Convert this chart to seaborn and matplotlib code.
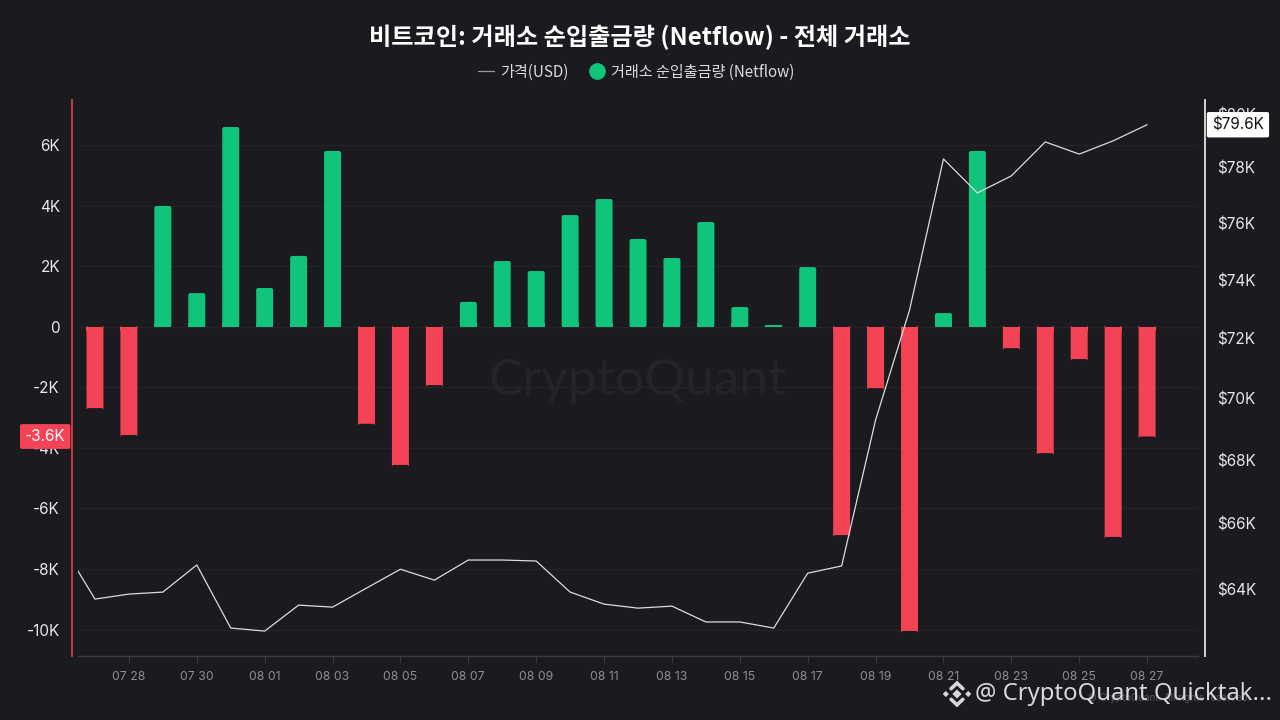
import numpy as np
import pandas as pd
import matplotlib
matplotlib.use("Agg")
import matplotlib.pyplot as plt
import seaborn as sns
from matplotlib.lines import Line2D
from matplotlib.patches import FancyBboxPatch
from matplotlib.ticker import FuncFormatter, FixedLocator, NullLocator
from matplotlib.transforms import blended_transform_factory

# === DATA
days = ["07 27", "07 28", "07 29", "07 30", "07 31", "08 01", "08 02", "08 03",
        "08 04", "08 05", "08 06", "08 07", "08 08", "08 09", "08 10", "08 11",
        "08 12", "08 13", "08 14", "08 15", "08 16", "08 17", "08 18", "08 19",
        "08 20", "08 21", "08 22", "08 23", "08 24", "08 25", "08 26", "08 27"]
netflow = [-2680, -3570, 4000, 1120, 6610, 1290, 2350, 5820,
           -3200, -4560, -1920, 830, 2180, 1850, 3700, 4230,
           2910, 2280, 3470, 660, 80, 1980, -6880, -2020,
           -10050, 460, 5820, -700, -4170, -1060, -6940, -3620]
# the first price is the day before the bars, it gets clipped by the left edge
price_prev = 65.4
price = [63.70, 63.85, 63.91, 64.73, 62.84, 62.75, 63.52, 63.46,
         64.03, 64.60, 64.27, 64.88, 64.88, 64.85, 63.91, 63.55,
         63.43, 63.49, 63.02, 63.02, 62.84, 64.48, 64.70, 69.29,
         72.96, 78.33, 77.09, 77.71, 78.96, 78.51, 79.00, 79.60]
left_ticks = [-10000, -8000, -6000, -4000, -2000, 0, 2000, 4000, 6000]
right_ticks = [64, 66, 68, 70, 72, 74, 76, 78, 80]

TITLE = "비트코인: 거래소 순입출금량 (Netflow) - 전체 거래소"
BG = "#1a1a1f"
GREEN = "#10c47c"
RED = "#f44354"
FONTS = ["Inter", "Noto Sans CJK KR", "DejaVu Sans"]

sns.set_theme(style="dark")
plt.rcParams["font.family"] = FONTS

df = pd.DataFrame({"day": days, "netflow": netflow})
df["sign"] = np.where(df["netflow"] >= 0, "in", "out")

fig = plt.figure(figsize=(12.8, 7.2), dpi=100, facecolor=BG)
ax = fig.add_axes([78 / 1280, 64 / 720, 1120 / 1280, 556 / 720], facecolor=BG)

# === BARS
sns.barplot(data=df, x="day", y="netflow", hue="sign", order=days,
            palette={"in": GREEN, "out": RED}, dodge=False, width=0.5, saturation=1,
            linewidth=0, edgecolor="none", legend=False, ax=ax, zorder=2)
ax.set_xlim(-0.52, 32.48)
ax.set_ylim(-10876, 7504)

# rounded outer end, zero end stays square
for p in list(ax.patches):
    h = p.get_height()
    if abs(h) < 200:
        continue
    ax.add_patch(FancyBboxPatch((p.get_x(), p.get_y()), p.get_width(), h,
                                boxstyle="round,pad=0,rounding_size=0.06",
                                mutation_aspect=1100, fc=p.get_facecolor(),
                                ec="none", lw=0, zorder=2))
    p.set_height(np.sign(h) * 120)

# === LEFT AXIS
ax.set_xlabel("")
ax.set_ylabel("")
ax.yaxis.set_major_locator(FixedLocator(left_ticks))
ax.yaxis.set_major_formatter(FuncFormatter(lambda v, _: "0" if v == 0 else f"{v / 1000:.0f}K"))
ax.set_xticks(range(1, len(days), 2))
ax.set_xticklabels(days[1::2])
ax.tick_params(axis="y", length=0, pad=8.6, labelsize=11, labelcolor="#e8e8ea")
ax.tick_params(axis="x", length=5, width=0.8, color="#3a3a40", pad=6,
               labelsize=8.8, labelcolor="#8c8c92", bottom=True)
ax.grid(axis="y", color="#232328", lw=1, zorder=0)
ax.grid(axis="x", visible=False)
ax.set_axisbelow(True)
for s in ["top", "right"]:
    ax.spines[s].set_visible(False)
ax.spines["bottom"].set_color("#3a3a40")
ax.spines["bottom"].set_linewidth(1)
ax.spines["left"].set_position(("outward", 4.3))
ax.spines["left"].set_color("#c93a48")
ax.spines["left"].set_linewidth(1.4)

# watermark
ax.text(0.5, 0.495, "CryptoQuant", transform=ax.transAxes, ha="center", va="center",
        fontsize=37, family="Lato", color="#232328", zorder=1)

# === PRICE LINE
tx = ax.twinx()
price_df = pd.DataFrame({"x": np.arange(-1, len(price)), "price": [price_prev] + price})
sns.lineplot(data=price_df, x="x", y="price", color="#dcdce0", lw=0.9, ax=tx, zorder=3)
tx.set_yscale("log")
tx.set_ylim(62.02, 80.53)
tx.set_xlim(-0.5, 32.5)
tx.set_xlabel("")
tx.set_ylabel("")
tx.yaxis.set_major_locator(FixedLocator(right_ticks))
tx.yaxis.set_minor_locator(NullLocator())
tx.yaxis.set_major_formatter(FuncFormatter(lambda v, _: f"${v:.0f}K"))
tx.tick_params(axis="y", which="both", length=0, pad=8.5, labelsize=11, labelcolor="#e8e8ea")
tx.grid(False)
tx.patch.set_visible(False)
for s in ["top", "left", "bottom"]:
    tx.spines[s].set_visible(False)
tx.spines["right"].set_position(("outward", 5))
tx.spines["right"].set_color("#d4d4d8")
tx.spines["right"].set_linewidth(1.4)

# === VALUE TAGS
ltrans = blended_transform_factory(fig.transFigure, ax.transData)
ax.text(65.5 / 1280, netflow[-1], "-3.6K", transform=ltrans, ha="right", va="center",
        fontsize=11, color="white", zorder=10, clip_on=False,
        bbox=dict(boxstyle="round,pad=0.32,rounding_size=0.12", fc=RED, ec="none"))
rtrans = blended_transform_factory(fig.transFigure, tx.transData)
tx.text(1212 / 1280, price[-1], "$79.6K", transform=rtrans, ha="left", va="center",
        fontsize=11, color="#111114", zorder=10, clip_on=False,
        bbox=dict(boxstyle="round,pad=0.34,rounding_size=0.12", fc="white", ec="none"))

# === TITLE + LEGEND
fig.text(640 / 1280, 1 - 37 / 720, TITLE, ha="center", va="center", fontsize=17.45,
         fontweight="bold", color="white", family=["Noto Sans CJK KR", "DejaVu Sans"])
handles = [Line2D([], [], color="#9a9aa0", lw=0.9),
           Line2D([], [], ls="none", marker="o", ms=11, color=GREEN)]
fig.legend(handles, ["가격(USD)", "거래소 순입출금량 (Netflow)"], ncol=2, frameon=False,
           loc="center", bbox_to_anchor=(636 / 1280, 1 - 72 / 720),
           labelcolor="#dcdce0", handlelength=1.1, handletextpad=0.4, columnspacing=1.3,
           prop={"family": ["Noto Sans CJK KR", "DejaVu Sans"], "size": 10.9})

# === FOOTER OVERLAY
fig.text(1088 / 1280, 1 - 698 / 720, "© CryptoQuant. All rights reserved.", ha="left", va="center",
         fontsize=7, color="#55555b", zorder=20)
fig.text(975 / 1280, 1 - 694 / 720, "@ CryptoQuant Quicktak...", ha="left", va="center",
         fontsize=17.2, color="#d8d8d8", family="Noto Sans", zorder=21)
icon = fig.add_axes([943 / 1280, 1 - 708 / 720, 28 / 1280, 28 / 720], facecolor="none")
icon.axis("off")
icon.set_xlim(-1, 1)
icon.set_ylim(-1, 1)
icon.scatter([0, -0.8, 0.8], [0, 0, 0], marker="D", s=[22, 10, 10], color="#d8d8d8", linewidths=0)
icon.plot([-0.42, 0, 0.42], [0.38, 0.78, 0.38], color="#d8d8d8", lw=2.6, solid_joinstyle="miter")
icon.plot([-0.42, 0, 0.42], [-0.38, -0.78, -0.38], color="#d8d8d8", lw=2.6, solid_joinstyle="miter")

fig.savefig("out.png", dpi=100, facecolor=BG)
